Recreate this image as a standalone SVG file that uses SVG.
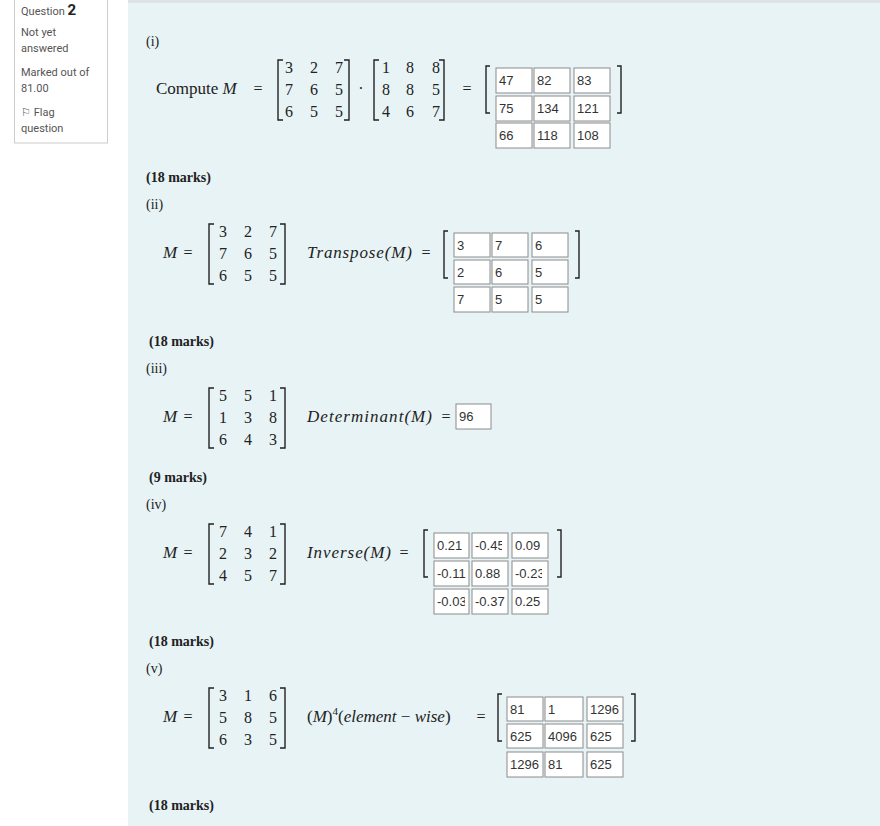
<svg xmlns="http://www.w3.org/2000/svg" width="880" height="826" viewBox="0 0 880 826">
<style>
.side{font-family:Roboto,"Liberation Sans",sans-serif;font-size:11px;fill:#555}
.m{font-family:"Liberation Serif","DejaVu Serif",serif;font-size:17px;fill:#222}
.n{font-family:"Liberation Serif","DejaVu Serif",serif;font-size:16px;fill:#222;text-anchor:middle}
.i{font-style:italic}
.lbl{font-family:"Liberation Serif",serif;font-size:14px;fill:#222}
.mk{font-family:"Liberation Serif",serif;font-size:14px;font-weight:bold;fill:#222}
.br{fill:none;stroke:#222;stroke-width:1.4}
.bx{fill:#fff;stroke:#8c8c8c;stroke-width:1}
.bt{font-family:"Liberation Sans",Arial,sans-serif;font-size:13px;fill:#333}
</style>
<defs>
<clipPath id="c1"><rect x="472" y="533" width="30" height="25"/></clipPath>
<clipPath id="c2"><rect x="512" y="561" width="30" height="25"/></clipPath>
<clipPath id="c3"><rect x="434" y="589" width="31" height="25"/></clipPath>
<clipPath id="c4"><rect x="545" y="724" width="35" height="25"/></clipPath>
</defs>
<rect width="880" height="826" fill="#fff"/>
<rect x="128" y="0" width="752" height="826" fill="#e7f3f5"/>
<rect x="128" y="0" width="752" height="3" fill="#dde3e6"/>
<g id="sidebar">
<rect x="14.5" y="-1" width="93" height="144" fill="#fff" stroke="#ccc"/>
<text x="21" y="15" class="side">Question <tspan font-size="15" font-weight="bold" fill="#222">2</tspan></text>
<text x="21" y="36" class="side">Not yet</text>
<text x="21" y="52" class="side">answered</text>
<text x="21" y="76" class="side">Marked out of</text>
<text x="21" y="92" class="side">81.00</text>
<text x="21" y="116" class="side">⚐ Flag</text>
<text x="21" y="132" class="side">question</text>
</g>

<g id="q1">
<text x="146" y="46" class="lbl">(i)</text>
<text x="156" y="94" class="m">Compute <tspan class="i">M</tspan></text>
<text x="258" y="94" class="n">=</text>
<path class="br" d="M283,60 H278 V120 H283 M344,60 H349 V120 H344"/>
<g class="n"><text x="289" y="73">3</text><text x="314" y="73">2</text><text x="339" y="73">7</text>
<text x="289" y="95">7</text><text x="314" y="95">6</text><text x="339" y="95">5</text>
<text x="289" y="117">6</text><text x="314" y="117">5</text><text x="339" y="117">5</text></g>
<text x="361" y="94" class="n">·</text>
<path class="br" d="M379,60 H374 V120 H379 M439,60 H444 V120 H439"/>
<g class="n"><text x="386" y="73">1</text><text x="410" y="73">8</text><text x="436" y="73">8</text>
<text x="386" y="95">8</text><text x="410" y="95">8</text><text x="436" y="95">5</text>
<text x="386" y="117">4</text><text x="410" y="117">6</text><text x="436" y="117">7</text></g>
<text x="467" y="94" class="n">=</text>
<path class="br" d="M490,66 H486 V113 H490 M617,66 H621 V113 H617"/>
<rect class="bx" x="496" y="68" width="36" height="25"/><rect class="bx" x="534" y="68" width="36" height="25"/><rect class="bx" x="574" y="68" width="36" height="25"/>
<rect class="bx" x="496" y="96" width="36" height="25"/><rect class="bx" x="534" y="96" width="36" height="25"/><rect class="bx" x="574" y="96" width="36" height="25"/>
<rect class="bx" x="496" y="123" width="36" height="25"/><rect class="bx" x="534" y="123" width="36" height="25"/><rect class="bx" x="574" y="123" width="36" height="25"/>
<g class="bt"><text x="499" y="85">47</text><text x="537" y="85">82</text><text x="577" y="85">83</text>
<text x="499" y="113">75</text><text x="537" y="113">134</text><text x="577" y="113">121</text>
<text x="499" y="140">66</text><text x="537" y="140">118</text><text x="577" y="140">108</text></g>
<text x="146" y="182" class="mk">(18 marks)</text>
</g>

<g id="q2">
<text x="146" y="209" class="lbl">(ii)</text>
<text x="163" y="258" class="m i">M</text><text x="188" y="258" class="n">=</text>
<path class="br" d="M214,224 H209 V284 H214 M280,224 H285 V284 H280"/>
<g class="n"><text x="223" y="237">3</text><text x="248" y="237">2</text><text x="273" y="237">7</text>
<text x="223" y="259">7</text><text x="248" y="259">6</text><text x="273" y="259">5</text>
<text x="223" y="281">6</text><text x="248" y="281">5</text><text x="273" y="281">5</text></g>
<text x="307" y="258" class="m i" textLength="105" lengthAdjust="spacing">Transpose(M)</text>
<text x="426" y="258" class="n">=</text>
<path class="br" d="M448,231 H444 V278 H448 M575,231 H579 V278 H575"/>
<rect class="bx" x="454" y="233" width="36" height="24"/><rect class="bx" x="492" y="233" width="36" height="24"/><rect class="bx" x="532" y="233" width="36" height="24"/>
<rect class="bx" x="454" y="260" width="36" height="24"/><rect class="bx" x="492" y="260" width="36" height="24"/><rect class="bx" x="532" y="260" width="36" height="24"/>
<rect class="bx" x="454" y="287" width="36" height="25"/><rect class="bx" x="492" y="287" width="36" height="25"/><rect class="bx" x="532" y="287" width="36" height="25"/>
<g class="bt"><text x="457" y="250">3</text><text x="495" y="250">7</text><text x="535" y="250">6</text>
<text x="457" y="277">2</text><text x="495" y="277">6</text><text x="535" y="277">5</text>
<text x="457" y="304">7</text><text x="495" y="304">5</text><text x="535" y="304">5</text></g>
<text x="149" y="346" class="mk">(18 marks)</text>
</g>

<g id="q3">
<text x="146" y="373" class="lbl">(iii)</text>
<text x="163" y="422" class="m i">M</text><text x="188" y="422" class="n">=</text>
<path class="br" d="M214,388 H209 V448 H214 M280,388 H285 V448 H280"/>
<g class="n"><text x="223" y="401">5</text><text x="248" y="401">5</text><text x="273" y="401">1</text>
<text x="223" y="423">1</text><text x="248" y="423">3</text><text x="273" y="423">8</text>
<text x="223" y="445">6</text><text x="248" y="445">4</text><text x="273" y="445">3</text></g>
<text x="307" y="422" class="m i" textLength="125" lengthAdjust="spacing">Determinant(M)</text>
<text x="446" y="422" class="n">=</text>
<rect class="bx" x="456" y="404" width="35" height="25"/>
<text x="459" y="421" class="bt">96</text>
<text x="149" y="482" class="mk">(9 marks)</text>
</g>

<g id="q4">
<text x="146" y="509" class="lbl">(iv)</text>
<text x="163" y="558" class="m i">M</text><text x="188" y="558" class="n">=</text>
<path class="br" d="M214,524 H209 V584 H214 M280,524 H285 V584 H280"/>
<g class="n"><text x="223" y="537">7</text><text x="248" y="537">4</text><text x="273" y="537">1</text>
<text x="223" y="559">2</text><text x="248" y="559">3</text><text x="273" y="559">2</text>
<text x="223" y="581">4</text><text x="248" y="581">5</text><text x="273" y="581">7</text></g>
<text x="307" y="558" class="m i" textLength="84" lengthAdjust="spacing">Inverse(M)</text>
<text x="404" y="558" class="n">=</text>
<path class="br" d="M428,530 H424 V577 H428 M557,530 H561 V577 H557"/>
<rect class="bx" x="434" y="533" width="35" height="25"/><rect class="bx" x="472" y="533" width="36" height="25"/><rect class="bx" x="512" y="533" width="36" height="25"/>
<rect class="bx" x="434" y="561" width="35" height="25"/><rect class="bx" x="472" y="561" width="36" height="25"/><rect class="bx" x="512" y="561" width="36" height="25"/>
<rect class="bx" x="434" y="589" width="35" height="25"/><rect class="bx" x="472" y="589" width="36" height="25"/><rect class="bx" x="512" y="589" width="36" height="25"/>
<g class="bt"><text x="437" y="550">0.21</text><text x="475" y="550" clip-path="url(#c1)">-0.45</text><text x="515" y="550">0.09</text>
<text x="437" y="578">-0.11</text><text x="475" y="578">0.88</text><text x="515" y="578" clip-path="url(#c2)">-0.23</text>
<text x="437" y="606" clip-path="url(#c3)">-0.03</text><text x="475" y="606">-0.37</text><text x="515" y="606">0.25</text></g>
<text x="149" y="646" class="mk">(18 marks)</text>
</g>

<g id="q5">
<text x="146" y="673" class="lbl">(v)</text>
<text x="163" y="722" class="m i">M</text><text x="188" y="722" class="n">=</text>
<path class="br" d="M214,688 H209 V748 H214 M280,688 H285 V748 H280"/>
<g class="n"><text x="223" y="701">3</text><text x="248" y="701">1</text><text x="273" y="701">6</text>
<text x="223" y="723">5</text><text x="248" y="723">8</text><text x="273" y="723">5</text>
<text x="223" y="745">6</text><text x="248" y="745">3</text><text x="273" y="745">5</text></g>
<text x="307" y="722" class="m">(<tspan class="i">M</tspan>)<tspan font-size="11" dy="-7">4</tspan><tspan dy="7">(</tspan><tspan class="i">element</tspan> − <tspan class="i">wise</tspan>)</text>
<text x="481" y="722" class="n">=</text>
<path class="br" d="M502,694 H498 V741 H502 M631,694 H635 V741 H631"/>
<rect class="bx" x="507" y="697" width="36" height="24"/><rect class="bx" x="545" y="697" width="38" height="24"/><rect class="bx" x="587" y="697" width="36" height="24"/>
<rect class="bx" x="507" y="724" width="36" height="24"/><rect class="bx" x="545" y="724" width="38" height="24"/><rect class="bx" x="587" y="724" width="36" height="24"/>
<rect class="bx" x="507" y="752" width="36" height="25"/><rect class="bx" x="545" y="752" width="38" height="25"/><rect class="bx" x="587" y="752" width="36" height="25"/>
<g class="bt"><text x="510" y="714">81</text><text x="548" y="714">1</text><text x="590" y="714">1296</text>
<text x="510" y="741">625</text><text x="548" y="741" clip-path="url(#c4)">4096</text><text x="590" y="741">625</text>
<text x="510" y="769">1296</text><text x="548" y="769">81</text><text x="590" y="769">625</text></g>
<text x="149" y="810" class="mk">(18 marks)</text>
</g>
</svg>
